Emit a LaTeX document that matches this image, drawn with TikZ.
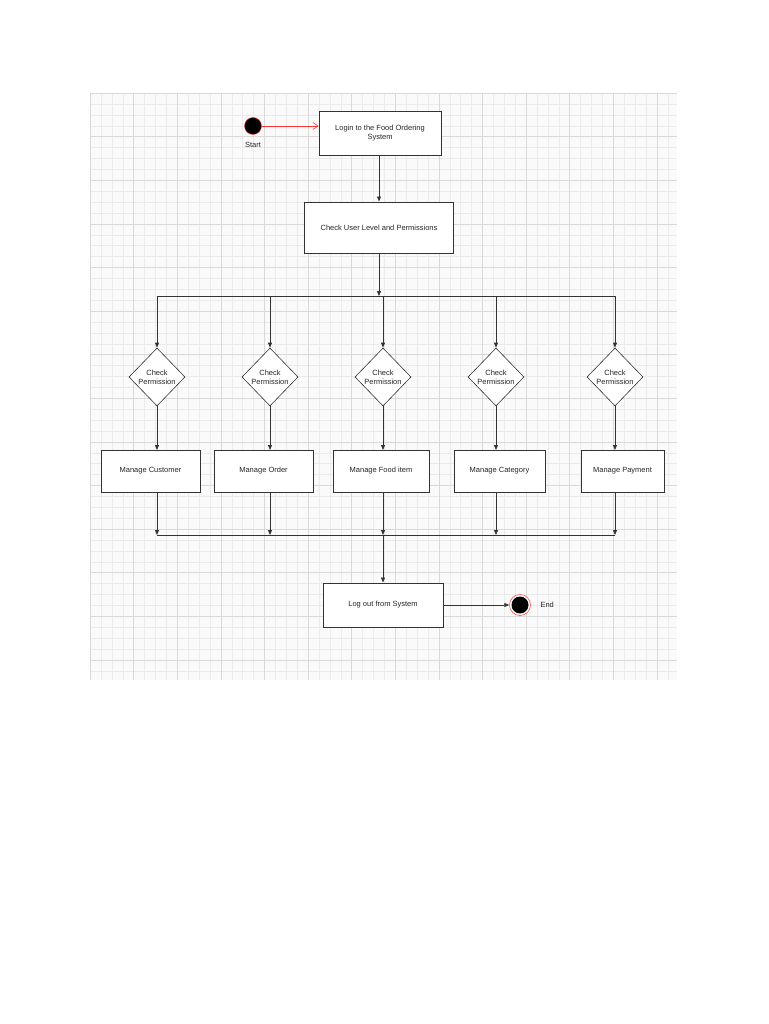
\documentclass[tikz,border=0pt]{standalone}
\usepackage{fontspec}
\setmainfont{Liberation Sans}
\usetikzlibrary{shapes.geometric,arrows.meta}
\begin{document}
\begin{tikzpicture}[x=1pt,y=-1pt,
  every node/.style={font=\fontsize{7.5}{9}\selectfont, text=black!85},
  box/.style={draw=black!80, line width=0.9pt, fill=white, minimum height=44pt, align=center, inner sep=0pt},
  dia/.style={draw=black!80, diamond, fill=white, minimum width=56pt, minimum height=58pt, inner sep=0pt, align=center, line width=0.6pt},
  arr/.style={draw=black!80, line width=0.8pt, -{Triangle[length=5pt,width=4pt]}},
  ln/.style={draw=black!80, line width=0.8pt}]
\useasboundingbox (0,0) rectangle (768,1024);
\fill[white] (0,0) rectangle (768,1024);
\fill[black!2] (90,93) rectangle (677,680);
\foreach \i in {0,...,53}{
  \draw[black!8, line width=0.3pt] (90+\i*10.9,93) -- (90+\i*10.9,680);
  \draw[black!8, line width=0.3pt] (90,93+\i*10.9) -- (677,93+\i*10.9);
}
\foreach \i in {0,...,13}{
  \draw[black!15, line width=0.4pt] (90+\i*43.6,93) -- (90+\i*43.6,680);
  \draw[black!15, line width=0.4pt] (90,93+\i*43.6) -- (677,93+\i*43.6);
}
% start
\node[circle, fill=black, draw=red!80, minimum size=17pt, inner sep=0pt] (start) at (253,126) {};
\node (startl) at (253,145) {Start};
\node[box, minimum width=122pt] (login) at (380,133) {Login to the Food Ordering\\System};
\draw[red!80, line width=0.6pt, -{Straight Barb[length=5pt,width=7pt]}] (start) -- (start -| login.west);
\node[box, minimum width=149pt, minimum height=51pt] (check) at (379,227.5) {Check User Level and Permissions};
\draw[arr] (login.south -| check) -- (check);
\coordinate (bus) at (379,296);
\draw[arr] (check) -- (bus);
\draw[ln] (157,296) -- (615,296);
\foreach \n/\x/\bx/\bw/\t in {c/157/150.5/99/Manage Customer, o/270/263.5/99/Manage Order, f/383/381/96/Manage Food item, k/496/499.5/91/Manage Category, p/615/622.5/83/Manage Payment}{
  \coordinate (t\n) at (\x,296);
  \node[dia] (d\n) at (\x,377) {Check\\Permission};
  \draw[arr] (t\n) -- (d\n.north);
  \node[box, minimum width=\bw pt, minimum height=42pt] (b\n) at (\bx,471) {\t};
  \draw[arr] (d\n.south) -- (\x,450);
  \coordinate (e\n) at (\x,535);
  \draw[arr] (\x,492) -- (e\n);
}
\draw[ln] (ec) -- (ep);
\node[box, minimum width=120pt] (logout) at (383,605) {Log out from System};
\draw[arr] (ef) -- (logout);
\node[circle, draw=red!80, fill=white, minimum size=21pt, inner sep=0pt, line width=0.5pt] (end) at (520,605) {};
\fill[black] (end.center) circle (8.5);
\draw[arr] (logout) -- (end);
\node[anchor=west] (endl) at (537,605) {End};
\end{tikzpicture}
\end{document}
